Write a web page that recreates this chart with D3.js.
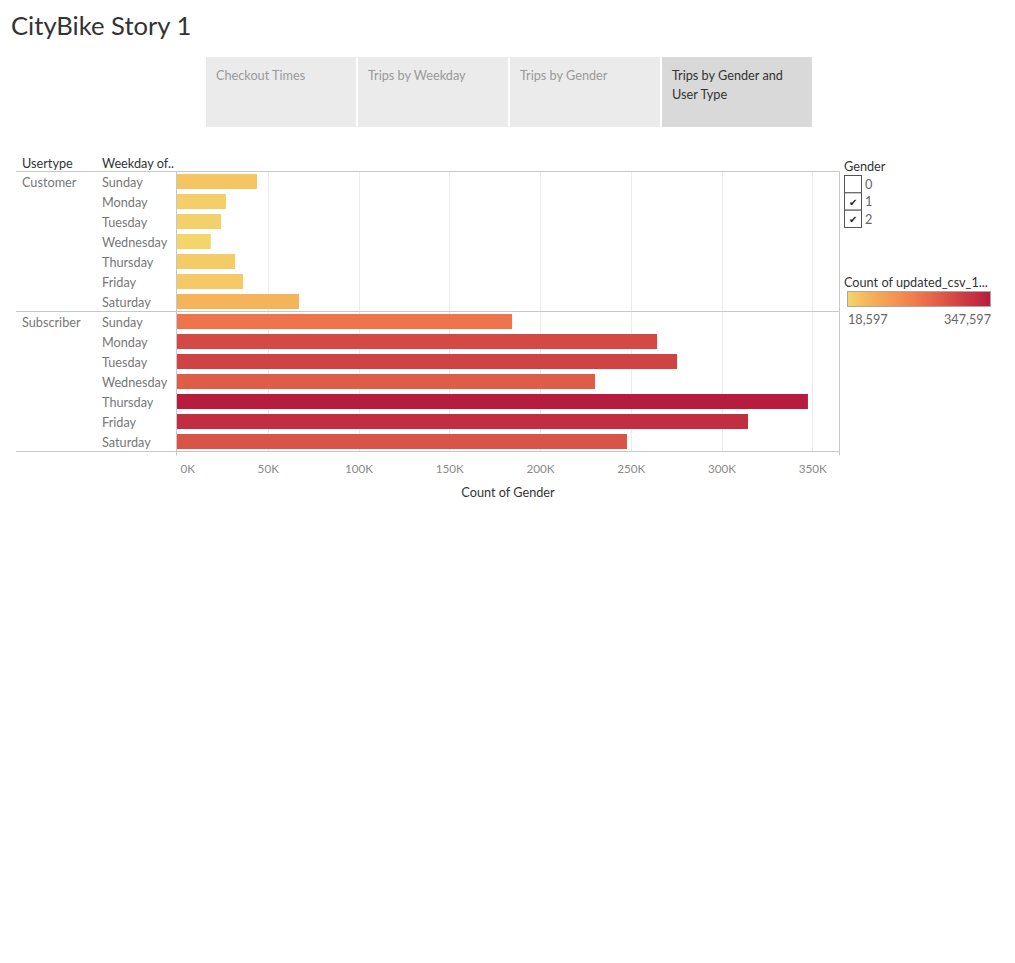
<!DOCTYPE html>
<html>
<head>
<meta charset="utf-8">
<script src="https://cdn.jsdelivr.net/npm/d3@7/dist/d3.min.js"></script>
<style>
  body { margin: 0; background: #fff; }
  svg text { font-family: Lato, "Open Sans", sans-serif; }
</style>
</head>
<body>
<svg id="chart" width="1015" height="963"></svg>
<script>
// ---- data ----
const title = "CityBike Story 1";
const tabs = ["Checkout Times", "Trips by Weekday", "Trips by Gender", "Trips by Gender and User Type"];
const userTypes = ["Customer", "Subscriber"];
const weekdays = ["Sunday", "Monday", "Tuesday", "Wednesday", "Thursday", "Friday", "Saturday"];
const customerCounts = [44100, 27000, 24300, 18597, 32000, 36400, 67200];
const subscriberCounts = [184600, 264500, 275500, 230300, 347597, 314600, 247900];
const xTicks = [0, 50000, 100000, 150000, 200000, 250000, 300000, 350000];
const genderOptions = ["0", "1", "2"];
const genderChecked = [false, true, true];
const colorLegendTitle = "Count of updated_csv_1...";
const xAxisTitle = "Count of Gender";

const seriesByType = { Customer: customerCounts, Subscriber: subscriberCounts };
const FS = 12.7;

const svg = d3.select("#chart");
svg.append("rect").attr("width", 1015).attr("height", 963).attr("fill", "#fff");

// title
svg.append("text").attr("x", 11).attr("y", 35).attr("font-size", 25.6).attr("fill", "#333")
  .text(title);

// tabs
const tabX = d3.scaleBand().domain(tabs).range([206, 814]).paddingInner(0);
tabs.forEach((t, i) => {
  const active = i === tabs.length - 1;
  const x0 = tabX(t);
  svg.append("rect").attr("x", x0).attr("y", 57).attr("width", tabX.bandwidth() - 2).attr("height", 70)
    .attr("fill", active ? "#d9d9d9" : "#ebebeb");
  const lines = active ? ["Trips by Gender and", "User Type"] : [t];
  lines.forEach((ln, j) => {
    svg.append("text").attr("x", x0 + 10).attr("y", 80 + j * 19).attr("font-size", FS)
      .attr("fill", active ? "#333" : "#999").text(ln);
  });
});

// layout
const paneLeft = 176.5, paneRight = 839.5, paneTop = 171.5;
const groupH = 140;

const x = d3.scaleLinear().domain([0, 350000]).range([paneLeft + 0.5, 812.3]);
const allVals = customerCounts.concat(subscriberCounts);
const vmin = d3.min(allVals), vmax = d3.max(allVals);
const color = d3.scaleLinear()
  .domain([vmin, vmin + 0.15 * (vmax - vmin), vmin + 0.5 * (vmax - vmin), vmax])
  .range(["#f3d56c", "#f6b45a", "#ef764b", "#b71c3e"])
  .interpolate(d3.interpolateRgb);

const yGroup = d3.scaleBand().domain(userTypes).range([paneTop, paneTop + groupH * userTypes.length]);
const yDay = d3.scaleBand().domain(weekdays).range([0, groupH]).paddingInner(0.25).paddingOuter(0.125);

// gridlines
svg.append("g").selectAll("line").data(xTicks.slice(1)).join("line")
  .attr("x1", d => Math.round(x(d)) + 0.5).attr("x2", d => Math.round(x(d)) + 0.5)
  .attr("y1", paneTop).attr("y2", paneTop + groupH * 2)
  .attr("stroke", "#ececec").attr("stroke-width", 1);

// headers
svg.append("text").attr("x", 22).attr("y", 168).attr("font-size", FS).attr("fill", "#333").text("Usertype");
svg.append("text").attr("x", 102).attr("y", 168).attr("font-size", FS).attr("fill", "#333").text("Weekday of..");

// bars and labels
userTypes.forEach(ut => {
  const g0 = yGroup(ut);
  const vals = seriesByType[ut];
  svg.append("text").attr("x", 22).attr("y", g0 + 11).attr("dy", "0.35em").attr("font-size", FS)
    .attr("fill", "#777").text(ut);
  const g = svg.append("g").attr("transform", `translate(0,${g0})`);
  g.selectAll("text").data(weekdays).join("text")
    .attr("x", 102).attr("y", d => yDay(d) + yDay.bandwidth() / 2 + 1).attr("dy", "0.35em")
    .attr("font-size", FS).attr("fill", "#777").text(d => d);
  g.selectAll("rect").data(vals).join("rect")
    .attr("x", x(0)).attr("y", (d, i) => yDay(weekdays[i]))
    .attr("width", d => x(d) - x(0)).attr("height", yDay.bandwidth())
    .attr("fill", d => color(d));
});

// borders
const lineColor = "#c8c8c8";
[paneTop, paneTop + groupH, paneTop + groupH * 2].forEach(yy => {
  svg.append("line").attr("x1", 16).attr("x2", paneRight).attr("y1", yy).attr("y2", yy)
    .attr("stroke", lineColor);
});
svg.append("line").attr("x1", paneLeft).attr("x2", paneLeft).attr("y1", paneTop).attr("y2", paneTop + groupH * 2 + 4)
  .attr("stroke", lineColor);
svg.append("line").attr("x1", paneRight).attr("x2", paneRight).attr("y1", paneTop).attr("y2", paneTop + groupH * 2 + 4)
  .attr("stroke", lineColor);

// x axis
const axis = d3.axisBottom(x).tickValues(xTicks).tickSize(0).tickPadding(0)
  .tickFormat(d => (d / 1000) + "K");
const axG = svg.append("g").attr("transform", `translate(0,${paneTop + groupH * 2 + 21})`).call(axis);
axG.select(".domain").remove();
axG.selectAll("text").attr("font-size", 11.7).attr("fill", "#8a8a8a")
  .attr("font-family", "Lato, 'Open Sans', sans-serif").attr("dy", "0")
  .attr("text-anchor", d => d === 0 ? "start" : "middle")
  .attr("dx", d => d === 0 ? 3 : 0);
svg.append("text").attr("x", (paneLeft + paneRight) / 2).attr("y", 497).attr("text-anchor", "middle")
  .attr("font-size", FS).attr("fill", "#333").text(xAxisTitle);

// Gender legend
svg.append("text").attr("x", 844).attr("y", 171).attr("font-size", FS).attr("fill", "#333").text("Gender");
const yLeg = d3.scaleBand().domain(genderOptions).range([175, 227]);
genderOptions.forEach((gv, i) => {
  const yy = yLeg(gv);
  svg.append("rect").attr("x", 844.5).attr("y", yy + 0.5).attr("width", 17).attr("height", yLeg.bandwidth())
    .attr("fill", "#fff").attr("stroke", "#555").attr("stroke-width", 1);
  if (genderChecked[i]) {
    svg.append("text").attr("x", 853).attr("y", yy + yLeg.bandwidth() / 2 + 1).attr("dy", "0.35em")
      .attr("text-anchor", "middle").attr("font-size", 10).attr("fill", "#222")
      .attr("font-family", "DejaVu Sans").text("\u2714");
  }
  svg.append("text").attr("x", 865).attr("y", yy + yLeg.bandwidth() / 2 + 1).attr("dy", "0.35em")
    .attr("font-size", FS).attr("fill", "#666").text(gv);
});

// Color legend
svg.append("text").attr("x", 844).attr("y", 287).attr("font-size", FS).attr("fill", "#333").text(colorLegendTitle);
const defs = svg.append("defs");
const grad = defs.append("linearGradient").attr("id", "cgrad");
d3.range(0, 1.0001, 0.05).forEach(t => {
  grad.append("stop").attr("offset", t).attr("stop-color", color(vmin + t * (vmax - vmin)));
});
svg.append("rect").attr("x", 847.5).attr("y", 291.5).attr("width", 143).attr("height", 15)
  .attr("fill", "url(#cgrad)").attr("stroke", "#a8a8a8");
svg.append("text").attr("x", 848).attr("y", 324).attr("font-size", FS).attr("fill", "#666")
  .text(d3.format(",")(vmin));
svg.append("text").attr("x", 991).attr("y", 324).attr("text-anchor", "end").attr("font-size", FS).attr("fill", "#666")
  .text(d3.format(",")(vmax));
</script>
</body>
</html>
